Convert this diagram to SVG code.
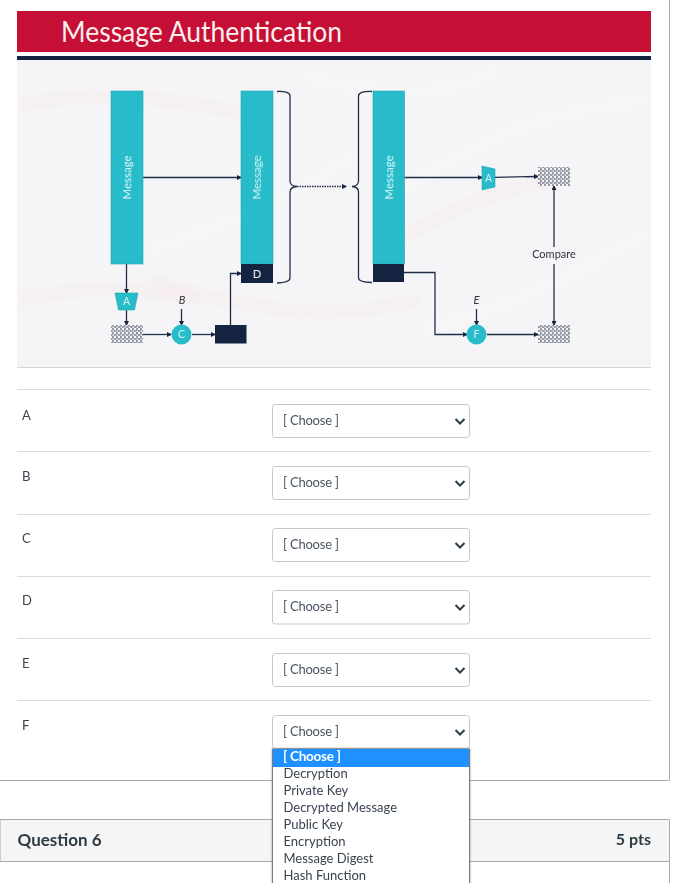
<svg xmlns="http://www.w3.org/2000/svg" width="685" height="883" viewBox="0 0 685 883">
<style>
text{font-family:Lato,"Open Sans","Liberation Sans",sans-serif}
.bar{fill:#28bccb;stroke:#1fa6b5;stroke-width:.6}
.dark{fill:#14233f}
.ln{fill:none;stroke:#232f4a;stroke-width:1.3}
.arr{marker-end:url(#ah)}
.msg{fill:#d8f2f5;font-size:11.500px;text-anchor:middle}
.wh{fill:#d8f2f5;font-size:10.500px;text-anchor:middle}
.it{fill:#2c3440;font-size:11px;font-style:italic;text-anchor:middle}
.rule{stroke:#dcdcdc;stroke-width:1}
.lab{fill:#3d4650;font-size:13px}
.sel{fill:#fff;stroke:#c4c8cc;stroke-width:1}
.cho{fill:#4a5560;font-size:13px}
.chev{fill:none;stroke:#2d3b45;stroke-width:2}
.opt{fill:#3a4450;font-size:13px}
.edge{stroke:#a9a9a9;stroke-width:1;fill:none}
.streak{fill:none;stroke:#f8dcdc;stroke-width:9;opacity:.3}
.streakw{fill:none;stroke:#fff;stroke-width:6;opacity:.5}
</style>
<defs>
<marker id="ah" markerWidth="5" markerHeight="5" refX="4" refY="2.500" orient="auto" markerUnits="userSpaceOnUse"><path d="M0 0L5 2.500L0 5z" fill="#17243f"/></marker>
<pattern id="hatch" width="4" height="4" patternUnits="userSpaceOnUse"><rect width="4" height="4" fill="#f4f4f6"/><path d="M0 1L1 0L2 1L1 2zM2 3L3 2L4 3L3 4z" fill="#3e4656"/><path d="M1 2H3V2.600H1zM0 0H.6V4H0z" fill="#8b91a0"/></pattern>
<filter id="soft" x="-10%" y="-10%" width="120%" height="120%"><feGaussianBlur stdDeviation="5"/></filter>
<filter id="sh" x="-5%" y="-5%" width="110%" height="110%"><feDropShadow dx="0" dy="0" stdDeviation="1.200" flood-color="#000" flood-opacity=".4"/></filter>
<clipPath id="pic"><rect x="17" y="60" width="634" height="307"/></clipPath>
</defs>

<rect width="685" height="883" fill="#fff"/>

<g id="banner">
<rect x="17" y="11" width="634" height="41" fill="#c50f34"/>
<text x="61" y="42" font-size="28.500" fill="#fbeef0" textLength="281" lengthAdjust="spacingAndGlyphs">Message Authentication</text>
<rect x="17" y="56" width="634" height="4" fill="#14233f"/>
</g>

<g id="background">
<rect x="17" y="60" width="634" height="307" fill="#f5f5f7"/>
<g clip-path="url(#pic)" filter="url(#soft)">
<path class="streak" d="M17 105Q120 85 250 115"/>
<path class="streak" d="M150 280Q300 330 420 300"/>
<path class="streak" d="M17 300Q100 280 200 300"/>
<path class="streak" d="M400 240Q480 190 560 180"/>
<path class="streakw" d="M400 190Q520 110 651 100"/>
<path class="streakw" d="M300 75Q420 110 500 70"/>
<path class="streakw" d="M150 250Q300 200 360 150"/>
<path class="streakw" d="M420 330Q540 300 651 230"/>
</g>
<line x1="17" y1="367.500" x2="651" y2="367.500" stroke="#d8d4d4"/>
</g>

<g id="connectors">
<path class="ln arr" d="M143 177.500H241"/>
<path class="ln arr" d="M126.500 264V293"/>
<path class="ln arr" d="M126.500 310V325"/>
<path class="ln arr" d="M143 334.500H171"/>
<path class="ln arr" d="M181.500 309V325"/>
<path class="ln arr" d="M192 334.500H215"/>
<path class="ln arr" d="M230.500 325V273.500H241"/>
<path class="ln" d="M277 91.500Q290 91 290 96V181Q290 186 297 186.500Q290 187 290 192V278Q290 282.500 277 283"/>
<path class="ln" d="M372 91.500Q358.500 91 358.500 96V181Q358.500 186 352 186.500Q358.500 187 358.500 192V278Q358.500 282 372 282.500"/>
<path class="ln arr" stroke-dasharray="1.500 1" d="M297 186.500H346"/>
<path class="ln arr" d="M404 177.500H482"/>
<path class="ln arr" d="M495 177.300L538 176.500"/>
<path class="ln arr" d="M404 272.500H435V334.500H467"/>
<path class="ln arr" d="M476.500 309V325"/>
<path class="ln arr" d="M487 334.500H538"/>
<path class="ln arr" d="M554 247V186"/>
<path class="ln arr" d="M554 264V325"/>
</g>

<g id="message-1">
<rect class="bar" x="111" y="91" width="32" height="173"/>
<text class="msg" transform="translate(131 177.500) rotate(-90)">Message</text>
</g>
<g id="message-2">
<rect class="bar" x="241" y="91" width="32" height="173"/>
<text class="msg" transform="translate(261 177.500) rotate(-90)">Message</text>
<rect class="dark" x="241" y="264" width="32" height="19"/>
<text x="257" y="278" fill="#f0f2f5" font-size="11" text-anchor="middle">D</text>
</g>
<g id="message-3">
<rect class="bar" x="373" y="91" width="31.500" height="173"/>
<text class="msg" transform="translate(393 177.500) rotate(-90)">Message</text>
<rect class="dark" x="373" y="264" width="31" height="18"/>
</g>
<g id="node-a-left">
<path class="bar" d="M115 293H138L134.500 310H118.500z"/>
<text class="wh" x="126.500" y="305">A</text>
</g>
<g id="hatch-left"><rect x="111" y="325" width="32" height="18" fill="url(#hatch)"/></g>
<g id="node-c">
<circle cx="181.500" cy="334.500" r="10" fill="#28bccb"/>
<text class="wh" x="181.500" y="338">C</text>
<text class="it" x="182" y="304">B</text>
</g>
<g id="dark-box"><rect class="dark" x="215" y="325" width="31.500" height="18.500"/></g>
<g id="node-a-right">
<path class="bar" d="M482 166L495 169V187L482 190z"/>
<text class="wh" x="488.500" y="181.500">A</text>
</g>
<g id="hatch-top"><rect x="538" y="167" width="32" height="19" fill="url(#hatch)"/></g>
<g id="compare"><text x="554" y="258" fill="#2c3440" font-size="11" text-anchor="middle">Compare</text></g>
<g id="node-f">
<circle cx="476.500" cy="334.500" r="10" fill="#28bccb"/>
<text class="wh" x="476.500" y="338">F</text>
<text class="it" x="476.500" y="304">E</text>
</g>
<g id="hatch-bottom"><rect x="538" y="325" width="32" height="18" fill="url(#hatch)"/></g>

<g id="rows">
<line class="rule" x1="17" y1="389.500" x2="651" y2="389.500"/>
<line class="rule" x1="17" y1="451.500" x2="651" y2="451.500"/>
<line class="rule" x1="17" y1="514.500" x2="651" y2="514.500"/>
<line class="rule" x1="17" y1="576.500" x2="651" y2="576.500"/>
<line class="rule" x1="17" y1="638.500" x2="651" y2="638.500"/>
<line class="rule" x1="17" y1="700.500" x2="651" y2="700.500"/>
<text class="lab" x="22" y="420">A</text>
<text class="lab" x="22" y="481">B</text>
<text class="lab" x="22" y="543">C</text>
<text class="lab" x="22" y="605">D</text>
<text class="lab" x="22" y="668">E</text>
<text class="lab" x="22" y="730">F</text>
</g>

<g id="select-a"><rect class="sel" x="272.500" y="404.500" width="197" height="33" rx="3"/><text class="cho" x="283" y="425" textLength="56">[ Choose ]</text><path class="chev" d="M455.500 419L460 423.500L464.500 419"/></g>
<g id="select-b"><rect class="sel" x="272.500" y="466.500" width="197" height="33" rx="3"/><text class="cho" x="283" y="487" textLength="56">[ Choose ]</text><path class="chev" d="M455.500 481L460 485.500L464.500 481"/></g>
<g id="select-c"><rect class="sel" x="272.500" y="528.500" width="197" height="33" rx="3"/><text class="cho" x="283" y="549" textLength="56">[ Choose ]</text><path class="chev" d="M455.500 543L460 547.500L464.500 543"/></g>
<g id="select-d"><rect class="sel" x="272.500" y="590.500" width="197" height="33.500" rx="3"/><text class="cho" x="283" y="611" textLength="56">[ Choose ]</text><path class="chev" d="M455.500 605L460 609.500L464.500 605"/></g>
<g id="select-e"><rect class="sel" x="272.500" y="653.500" width="197" height="33" rx="3"/><text class="cho" x="283" y="674" textLength="56">[ Choose ]</text><path class="chev" d="M455.500 668L460 672.500L464.500 668"/></g>
<g id="select-f"><rect class="sel" x="272.500" y="715.500" width="197" height="33" rx="3"/><text class="cho" x="283" y="736" textLength="56">[ Choose ]</text><path class="chev" d="M455.500 730L460 734.500L464.500 730"/></g>

<g id="frame">
<path class="edge" d="M669.500 0V780.500H0"/>
<path d="M0 819.500H669.500V861.500H0z" fill="#f5f5f5" stroke="#a9a9a9"/>
<path class="edge" d="M669.500 861.500V883"/>
<text x="17.500" y="846" font-size="17" font-weight="700" fill="#2d3b45">Question 6</text>
<text x="651" y="845" font-size="16" font-weight="700" fill="#2d3b45" text-anchor="end">5 pts</text>
</g>

<g id="dropdown">
<rect x="272.500" y="749" width="197" height="140" fill="#fff" stroke="#7a7a7a" filter="url(#sh)"/>
<rect x="273" y="749" width="196" height="18" fill="#1e90ff"/>
<text x="283" y="761" font-size="13.500" font-weight="700" fill="#fff" textLength="58">[ Choose ]</text>
<text class="opt" x="283.500" y="778">Decryption</text>
<text class="opt" x="283.500" y="795">Private Key</text>
<text class="opt" x="283.500" y="812">Decrypted Message</text>
<text class="opt" x="283.500" y="829">Public Key</text>
<text class="opt" x="283.500" y="846">Encryption</text>
<text class="opt" x="283.500" y="863">Message Digest</text>
<text class="opt" x="283.500" y="880">Hash Function</text>
</g>
</svg>
